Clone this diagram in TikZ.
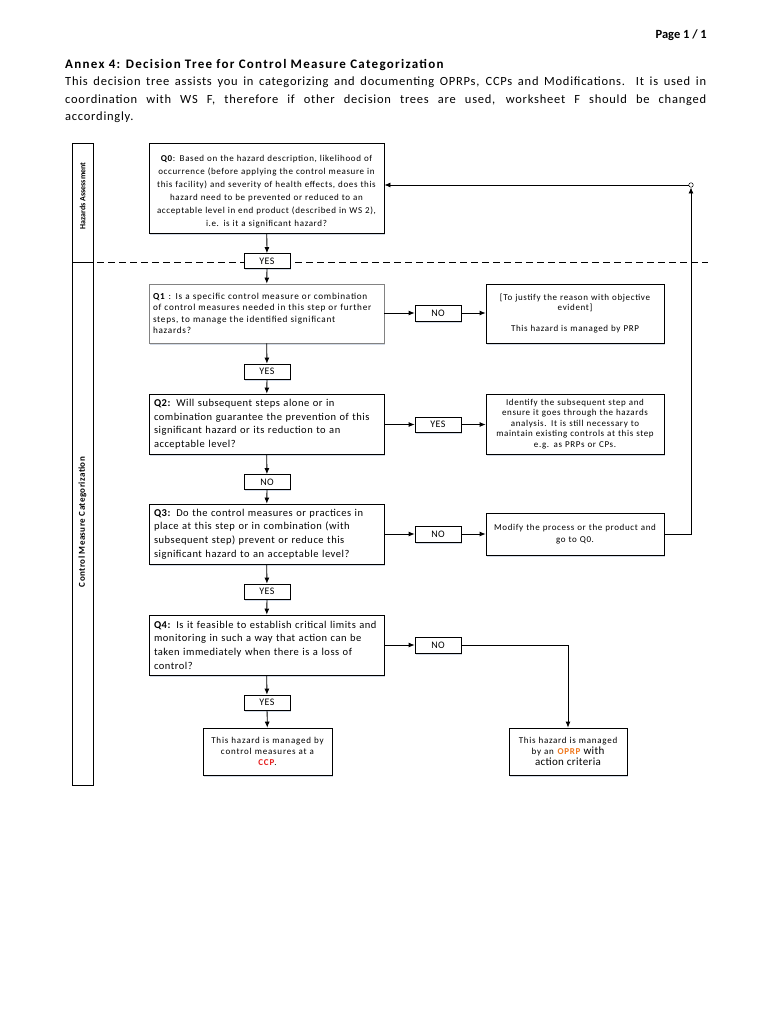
\documentclass[tikz,border=0pt]{standalone}
\usepackage{fontspec}
\setmainfont{Carlito}
\usetikzlibrary{arrows.meta,shadows}
\definecolor{ccpred}{RGB}{230,30,30}
\definecolor{oprporange}{RGB}{240,120,30}
\definecolor{q1gray}{RGB}{130,130,130}
\definecolor{shadowblue}{RGB}{200,210,225}
\newcommand\lsp[1]{\addfontfeatures{LetterSpace=#1}}
\begin{document}
\begin{tikzpicture}[x=1pt,y=-1pt,
  shd/.style={drop shadow={shadow xshift=1pt, shadow yshift=-1.5pt, fill=shadowblue, opacity=0.8}},
  box/.style={draw, line width=0.8pt, inner sep=0pt, align=center, fill=white, shd},
  lbl/.style={draw, line width=0.8pt, minimum width=46pt, minimum height=15pt, inner sep=0pt, fill=white, shd, font=\fontsize{10}{11}\selectfont\lsp{4}},
  arr/.style={-{Latex[length=6pt,width=5pt]}, line width=0.8pt},
  ln/.style={line width=0.8pt},
  qbig/.style={font=\fontsize{10.5}{13.6}\selectfont\lsp{5}},
  rsmall/.style={font=\fontsize{9}{10.6}\selectfont\lsp{7}},
  lane/.style={rotate=90}
]
\useasboundingbox (0,0) rectangle (768,1024);
% header
\node[anchor=base east, inner sep=0, font=\bfseries\fontsize{12.5}{14}\selectfont] (page) at (707,39) {Page 1 / 1};
\node[anchor=base west, inner sep=0, font=\bfseries\fontsize{13}{16}\selectfont\lsp{10}] (title) at (65,69) {Annex 4: Decision Tree for Control Measure Categorization};
\node[anchor=north west, inner sep=0, text width=641pt, align=justify, font=\fontsize{12.5}{17.5}\selectfont\lsp{6}] (intro) at (65,77)
 {This decision tree assists you in categorizing and documenting OPRPs, CCPs and Modifications. It is used in\linebreak coordination with WS F, therefore if other decision trees are used, worksheet F should be changed\linebreak accordingly.};
% swimlane
\draw[ln] (72,143) rectangle (93,785);
\draw[ln] (72,262) -- (93,262);
\draw[ln, dash pattern=on 7pt off 4pt] (97,262) -- (708,262);
\node[lane, font=\bfseries\fontsize{8}{9}\selectfont] (laneA) at (82.5,196) {Hazards Assessment};
\node[lane, font=\bfseries\fontsize{9}{10}\selectfont\lsp{5}] (laneB) at (82.5,522) {Control Measure Categorization};
% main column
\node[box, font=\fontsize{9}{13}\selectfont\lsp{7}, minimum width=235pt, minimum height=90pt, text width=233pt] (q0) at (266.5,188)
 {\rule{0pt}{13pt}\textbf{Q0}: Based on the hazard description, likelihood of\\ occurrence (before applying the control measure in\\ this facility) and severity of health effects, does this\\ hazard need to be prevented or reduced to an\\ acceptable level in end product (described in WS 2),\\ i.e. is it a significant hazard?};
\node[lbl] (y1) at (267,261) {YES};
\node[box, draw=q1gray, align=left, font=\fontsize{9.2}{11.4}\selectfont\lsp{8}, minimum width=235pt, minimum height=59pt, text width=227pt] (q1) at (266.5,313.5)
 {\textbf{Q1} : Is a specific control measure or combination\\ of control measures needed in this step or further\\ steps, to manage the identified significant\\ hazards?\\[2pt]};
\node[lbl] (y2) at (267,371.5) {YES};
\node[box, qbig, align=left, minimum width=235pt, minimum height=60pt, text width=225pt] (q2) at (266.5,424)
 {\textbf{Q2:} Will subsequent steps alone or in\\ combination guarantee the prevention of this\\ significant hazard or its reduction to an\\ acceptable level?};
\node[lbl] (n3) at (267,482) {NO};
\node[box, qbig, align=left, minimum width=235pt, minimum height=60pt, text width=225pt] (q3) at (266.5,534)
 {\textbf{Q3:} Do the control measures or practices in\\ place at this step or in combination (with\\ subsequent step) prevent or reduce this\\ significant hazard to an acceptable level?};
\node[lbl] (y4) at (267,591.5) {YES};
\node[box, qbig, align=left, minimum width=235pt, minimum height=60pt, text width=225pt] (q4) at (266.5,645)
 {\textbf{Q4:} Is it feasible to establish critical limits and\\ monitoring in such a way that action can be\\ taken immediately when there is a loss of\\ control?};
\node[lbl] (y5) at (267,702.5) {YES};
\node[box, font=\fontsize{9}{11}\selectfont\lsp{9}, minimum width=129pt, minimum height=47pt, text width=127pt] (ccp) at (267.5,751.5)
 {This hazard is managed by\\ control measures at a\\ \textbf{\textcolor{ccpred}{CCP}}.};
% right column
\node[lbl, minimum height=16pt] (r1) at (438,313) {NO};
\node[box, rsmall, minimum width=178pt, minimum height=59pt, text width=176pt] (prp) at (575,313.5)
 {[To justify the reason with objective\\ evident]\\[10.6pt] This hazard is managed by PRP};
\node[lbl] (r2) at (438,424.5) {YES};
\node[box, rsmall, minimum width=178pt, minimum height=60pt, text width=176pt] (ident) at (575,424)
 {Identify the subsequent step and\\ ensure it goes through the hazards\\ analysis. It is still necessary to\\ maintain existing controls at this step\\ e.g. as PRPs or CPs.};
\node[lbl, minimum height=16pt] (r3) at (438,534) {NO};
\node[box, font=\fontsize{9}{12}\selectfont\lsp{7}, minimum width=178pt, minimum height=42pt, text width=176pt] (mod) at (575,534)
 {Modify the process or the product and\\ go to Q0.\\[3pt]};
\node[lbl, minimum height=16pt] (r4) at (438,645) {NO};
\node[box, font=\fontsize{9}{11.5}\selectfont\lsp{8}, minimum width=118pt, minimum height=47pt, text width=116pt] (oprp) at (568,751.5)
 {This hazard is managed\\[-1pt] by an \textbf{\textcolor{oprporange}{OPRP}} {\fontsize{11}{11.5}\selectfont\lsp{3}with}\\ {\fontsize{11}{11.5}\selectfont\lsp{3}action criteria}};
\node[circle, draw, fill=white, line width=0.5pt, inner sep=0pt, minimum size=4.5pt] (loop) at (691,185) {};
% connectors
\draw[arr] (q0) -- (y1);
\draw[arr] (y1) -- (q1);
\draw[arr] (q1) -- (y2);
\draw[arr] (y2) -- (q2);
\draw[arr] (q2) -- (n3);
\draw[arr] (n3) -- (q3);
\draw[arr] (q3) -- (y4);
\draw[arr] (y4) -- (q4);
\draw[arr] (q4) -- (y5);
\draw[arr] (y5) -- (ccp);
\draw[arr] (q1.east |- r1) -- (r1);
\draw[arr] (r1) -- (r1 -| prp.west);
\draw[arr] (q2.east |- r2) -- (r2);
\draw[arr] (r2) -- (r2 -| ident.west);
\draw[arr] (q3.east |- r3) -- (r3);
\draw[arr] (r3) -- (r3 -| mod.west);
\draw[arr] (q4.east |- r4) -- (r4);
\draw[arr] (r4) -| (oprp.north);
\draw[arr] (mod.east) -| (loop.south);
\draw[arr] (loop.west) -- (loop -| q0.east);
\end{tikzpicture}
\end{document}
